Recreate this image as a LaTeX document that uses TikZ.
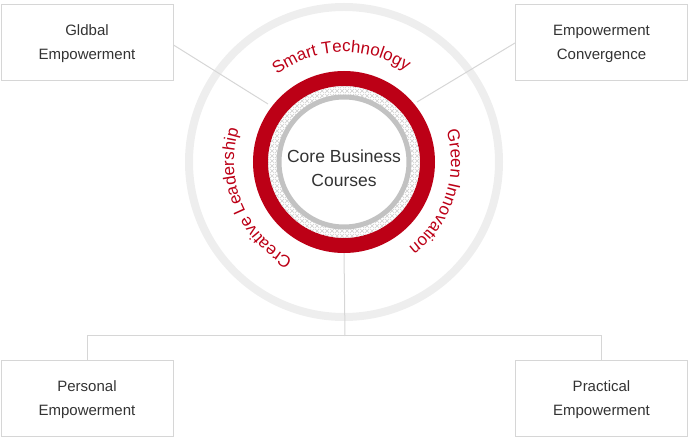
\documentclass[tikz,border=0pt]{standalone}
\usepackage{fontspec}
\setmainfont{Liberation Sans}
\usetikzlibrary{decorations.text,patterns.meta,calc}
\definecolor{tred}{RGB}{188,0,22}
\definecolor{txt}{RGB}{51,51,51}
\definecolor{lineg}{RGB}{214,214,214}
\definecolor{bigg}{RGB}{238,238,238}
\definecolor{ringg}{RGB}{194,194,194}
\definecolor{hatchc}{RGB}{205,205,205}
\newcommand\myarcfont{\fontsize{17}{20}\selectfont}
\newcommand\twolines[2]{\raisebox{-2pt}{\begin{tabular}{@{}c@{}}#1\\#2\end{tabular}}}
\tikzdeclarepattern{name=bighatch, type=uncolored,
  bounding box={(0,0) and (5pt,5pt)}, tile size={(5pt,5pt)},
  code={\draw[line width=0.6pt] (0,0) -- (5pt,5pt) (0,5pt) -- (5pt,0);}}
\begin{document}
\begin{tikzpicture}[x=1pt,y=1pt,
  box/.style={draw=lineg, line width=1pt, minimum width=172pt, minimum height=76pt,
    align=center, text=txt, font=\fontsize{15}{24}\selectfont, inner sep=0pt},
  conn/.style={draw=lineg, line width=1pt},
  arctext/.style={decorate, decoration={text along path, text align=center,
    text color=tred, text={|\myarcfont|#1}}}]
\useasboundingbox (0,0) rectangle (689,-438);
\coordinate (C) at (344,-162);
% outer boxes
\node[box] (gl) at (87,-43) {\twolines{Gldbal}{Empowerment}};
\node[box] (ec) at (601.5,-43) {\twolines{Empowerment}{Convergence}};
\node[box] (pe) at (87,-399) {\twolines{Personal}{Empowerment}};
\node[box] (pr) at (601.5,-399) {\twolines{Practical}{Empowerment}};
% big light ring
\draw[bigg, line width=8pt] (C) circle[radius=155];
% connector end points
\coordinate (a1) at (268,-104);
\coordinate (a2) at (417,-102);
\coordinate (J) at (345,-336);
% core circle
\node[circle, fill=white, minimum size=182pt, inner sep=0pt] (core) at (C) {};
\draw[conn] ([yshift=-2pt]gl.east) -- (a1);
\draw[conn] (ec.west) -- (a2);
\draw[conn] (core.south) -- (J);
\draw[conn] (J) -| (pe.north);
\draw[conn] (J) -| (pr.north);
% rings
\draw[tred, line width=15pt] (C) circle[radius=83.5];
\fill[pattern={bighatch}, pattern color=hatchc, even odd rule]
  (C) circle[radius=76] (C) circle[radius=67.5];
\draw[ringg, line width=5pt] (C) circle[radius=65];
\node[text=txt, align=center, font=\fontsize{17.5}{23.5}\selectfont] (ct) at (344,-168) {Core Business\\Courses};
% arc texts
\path[arctext=Smart Technology] ($(C)+(181.5:110)$) arc[start angle=181.5, end angle=1.5, radius=110];
\path[arctext=Green Innovation] ($(C)+(72:107)$) arc[start angle=72, end angle=-108, radius=107];
\path[arctext=Creative Leadership] ($(C)+(292.6:110)$) arc[start angle=292.6, end angle=112.6, radius=110];
\end{tikzpicture}
\end{document}
